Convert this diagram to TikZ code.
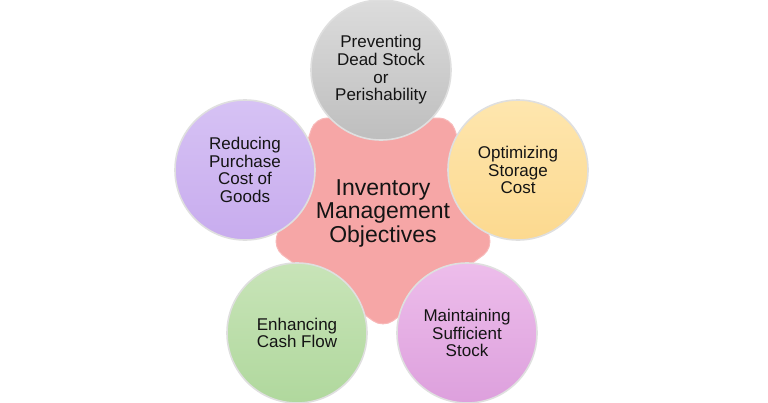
\documentclass[tikz,border=0pt]{standalone}
\usepackage{fontspec}
\setmainfont{Liberation Sans}
\usetikzlibrary{shadings}
\definecolor{pentfill}{HTML}{F6A6A6}
\definecolor{grayA}{HTML}{DCDCDC}
\definecolor{grayB}{HTML}{BEBEBE}
\definecolor{purpA}{HTML}{D6C2F4}
\definecolor{purpB}{HTML}{C8ACEE}
\definecolor{yellA}{HTML}{FEE6AE}
\definecolor{yellB}{HTML}{FCD98F}
\definecolor{greenA}{HTML}{C8E4B8}
\definecolor{greenB}{HTML}{B0D89D}
\definecolor{pinkA}{HTML}{EDBDEB}
\definecolor{pinkB}{HTML}{DDA0DD}
\definecolor{txt}{HTML}{141414}
\tikzset{
  objcircle/.style={circle, minimum size=140pt, inner sep=0pt, align=center,
    draw=white!75!gray, line width=1.6pt, font=\fontsize{17}{17.6}\selectfont, text=txt},
  centertext/.style={align=center, font=\fontsize{23}{23.5}\selectfont, text=txt}
}
\begin{document}
\begin{tikzpicture}[x=1pt,y=-1pt]
\useasboundingbox (0,0) rectangle (768,402);
\fill[white] (0,0) rectangle (768,402);
% pentagon
\draw[fill=pentfill, draw=pentfill!80!white, line width=1pt, rounded corners=12pt]
  (383,328) -- (493,248) -- (451,118) -- (315,118) -- (273,248) -- cycle;
\node[centertext] (center) at (383,213) {Inventory\\Management\\Objectives};
% circles
\node[objcircle, top color=grayA, bottom color=grayB] (dead) at (381,70)
  {Preventing\\Dead Stock\\or\\Perishability};
\node[objcircle, top color=purpA, bottom color=purpB] (purch) at (245,170)
  {Reducing\\Purchase\\Cost of\\Goods};
\node[objcircle, top color=yellA, bottom color=yellB] (store) at (518,170)
  {Optimizing\\Storage\\Cost};
\node[objcircle, top color=greenA, bottom color=greenB] (cash) at (297,333)
  {Enhancing\\Cash Flow};
\node[objcircle, top color=pinkA, bottom color=pinkB] (stock) at (467,333)
  {Maintaining\\Sufficient\\Stock};
\end{tikzpicture}
\end{document}
